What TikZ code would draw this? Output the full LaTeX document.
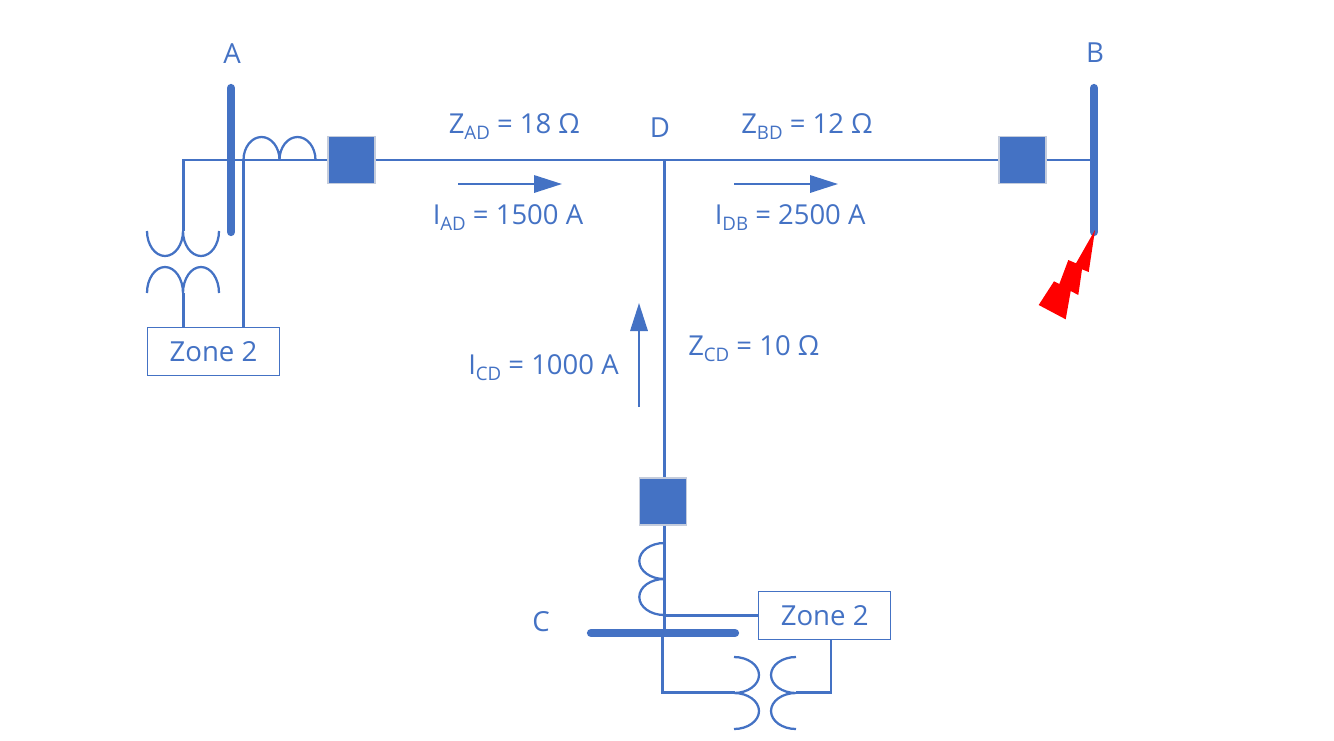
\documentclass[tikz,border=0pt]{standalone}
\usepackage{fontspec}
\setmainfont{Open Sans}
\usetikzlibrary{arrows.meta}
\definecolor{blu}{HTML}{4472C4}
\definecolor{brd}{HTML}{C4CCDC}
\newcommand{\lowr}[1]{\raisebox{-0.2em}{\fontsize{14}{15}\selectfont #1}}
\tikzset{
  wire/.style={draw=blu,line width=2.1pt},
  coil/.style={draw=blu,line width=1.7pt},
  busbar/.style={draw=blu,line width=6.2pt,line cap=round},
  breaker/.style={draw=brd,line width=1pt,fill=blu,minimum size=35.25pt,inner sep=0pt},
  zonebox/.style={draw=blu,line width=0.8pt,fill=white,minimum width=99pt,minimum height=35.5pt,inner sep=0pt,text=blu,font=\fontsize{20.7}{24}\selectfont},
  lab/.style={text=blu,inner sep=0pt,anchor=base west,font=\fontsize{20.6}{24}\selectfont},
  head/.style={text=blu,inner sep=0pt,font=\fontsize{20.7}{24}\selectfont},
  flow/.style={draw=blu,line width=1.7pt,-{Triangle[length=21pt,width=13pt]}},
}
\begin{document}
\begin{tikzpicture}[x=0.75pt,y=-0.75pt]
\useasboundingbox (0,0) rectangle (1334,740);
% nodes
\node[breaker] (brA) at (351.5,160) {};
\node[breaker] (brB) at (1022.5,160) {};
\node[breaker] (brC) at (663,501.5) {};
\node[zonebox] (zA) at (213.5,351.5) {Zone 2};
\node[zonebox] (zC) at (824.7,615.5) {Zone 2};
\coordinate (busAt) at (231,88);
\coordinate (busAb) at (231,232);
\coordinate (busBt) at (1094,88);
\coordinate (busBb) at (1094,232);
\coordinate (busCl) at (591,633);
\coordinate (busCr) at (735,633);
\coordinate (D) at (664.3,160);
\coordinate (lA) at (183.3,160);
\coordinate (tA1) at (183.3,231);
\coordinate (tA2) at (183.3,293);
\coordinate (ctA) at (243.5,160);
\coordinate (coilCe) at (664.3,615.5);
\coordinate (cC) at (664.3,633);
\coordinate (cC2) at (662.8,633);
\coordinate (cC3) at (662.8,692.5);
\coordinate (tC1) at (735,692.5);
\coordinate (tC2) at (796,692.5);
\coordinate (tC3) at (831,692.5);
% wires
\draw[wire] (tA1) -- (lA) -- (brA.west |- lA);
\draw[wire] (brA.east |- D) -- (D) -- (brB.west |- D);
\draw[wire] (brB.east |- D) -- (busBt |- D);
\draw[wire] (ctA) -- (ctA |- zA.north);
\draw[wire] (tA2) -- (tA2 |- zA.north);
\draw[wire] (D) -- (D |- brC.north);
\draw[wire] (D |- brC.south) -- (cC);
\draw[wire] (coilCe) -- (zC.west |- coilCe);
\draw[wire] (cC2) -- (cC3) -- (tC1);
\draw[wire] (tC2) -- (tC3) -- (tC3 |- zC.south);
% coils
\draw[coil] (243.5,160) arc[start angle=180,end angle=0,x radius=13.5pt,y radius=17.25pt]
            arc[start angle=180,end angle=0,x radius=13.5pt,y radius=17.25pt];
\draw[coil] (147,231) arc[start angle=180,end angle=360,x radius=13.5pt,y radius=18.75pt]
            arc[start angle=180,end angle=360,x radius=13.5pt,y radius=18.75pt];
\draw[coil] (147,293) arc[start angle=180,end angle=0,x radius=13.5pt,y radius=19.5pt]
            arc[start angle=180,end angle=0,x radius=13.5pt,y radius=19.5pt];
\draw[coil] (664.3,543) arc[start angle=90,end angle=270,x radius=18.75pt,y radius=13.5pt]
            arc[start angle=90,end angle=270,x radius=18.75pt,y radius=13.5pt];
\draw[coil] (734,657) arc[start angle=90,end angle=-90,x radius=18.75pt,y radius=13.5pt]
            arc[start angle=90,end angle=-90,x radius=18.75pt,y radius=13.5pt];
\draw[coil] (796,657) arc[start angle=90,end angle=270,x radius=18.75pt,y radius=13.5pt]
            arc[start angle=90,end angle=270,x radius=18.75pt,y radius=13.5pt];
% bus bars
\draw[busbar] (busAt) -- (busAb);
\draw[busbar] (busBt) -- (busBb);
\draw[busbar] (busCl) -- (busCr);
% fault
\fill[red] (1095,230) -- (1088.7,272) -- (1082,269.3) -- (1078.3,295) -- (1070.7,291) -- (1065.7,319.3) -- (1038.7,305) -- (1054,281.3) -- (1059.3,284) -- (1068.3,260) -- (1076,263.3) -- cycle;
% flow arrows
\coordinate (f1a) at (458,184); \coordinate (f1b) at (562,184);
\coordinate (f2a) at (734,184); \coordinate (f2b) at (838,184);
\coordinate (f3a) at (639,407); \coordinate (f3b) at (639,303);
\draw[flow] (f1a) -- (f1b);
\draw[flow] (f2a) -- (f2b);
\draw[flow] (f3a) -- (f3b);
% labels
\node[head] (nA) at (232,53.7) {A};
\node[head] (nB) at (1095,52.7) {B};
\node[head] (nD) at (660,127.7) {D};
\node[head] (nC) at (541,621.7) {C};
\node[lab] (l1) at (448.5,133.8) {Z\lowr{AD} = 18 Ω};
\node[lab] (l2) at (741,133.8) {Z\lowr{BD} = 12 Ω};
\node[lab] (l3) at (432.5,224.5) {I\lowr{AD} = 1500 A};
\node[lab] (l4) at (714.5,224.5) {I\lowr{DB} = 2500 A};
\node[lab] (l5) at (468,374.5) {I\lowr{CD} = 1000 A};
\node[lab] (l6) at (688,355.8) {Z\lowr{CD} = 10 Ω};
\end{tikzpicture}
\end{document}
